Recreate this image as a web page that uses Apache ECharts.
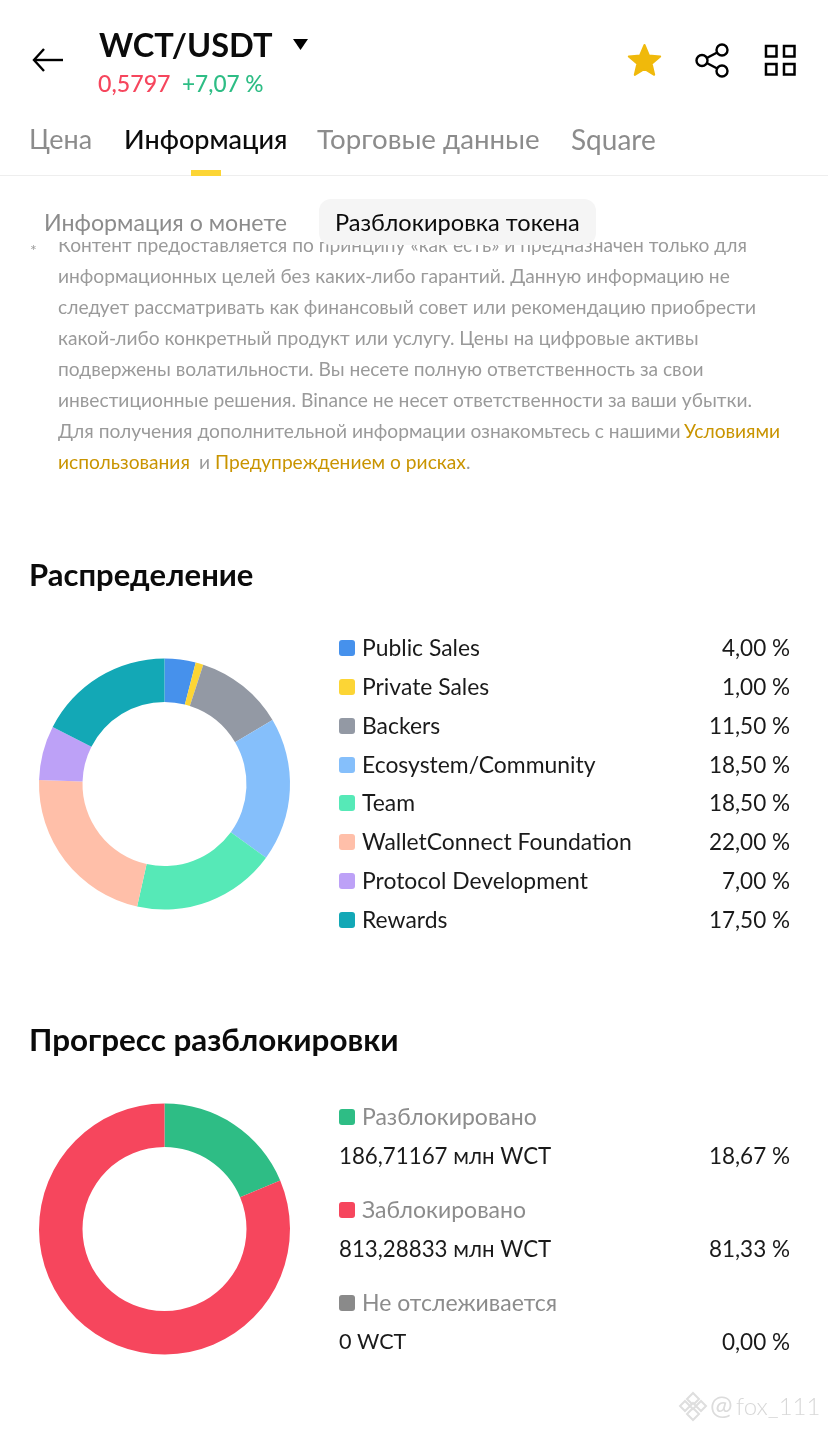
<!DOCTYPE html>
<html><head><meta charset="utf-8">
<style>html,body{margin:0;padding:0;background:#fff}#c{width:828px;height:1431px}</style>
<script src="https://cdn.jsdelivr.net/npm/echarts@6/dist/echarts.min.js"></script>
</head><body><div id="c"></div>
<script>
const allocNames=['Public Sales','Private Sales','Backers','Ecosystem/Community','Team','WalletConnect Foundation','Protocol Development','Rewards'];
const allocValues=[4,1,11.5,18.5,18.5,22,7,17.5];
const allocLabels=['4,00 %','1,00 %','11,50 %','18,50 %','18,50 %','22,00 %','7,00 %','17,50 %'];
const allocColors=['#4691EC','#FCD535','#9399A4','#85BFFB','#56E9B7','#FFBFA9','#BDA1F7','#13A8B6'];
const unlockNames=['Разблокировано','Заблокировано','Не отслеживается'];
const unlockValues=[18.67,81.33,0];
const unlockAmounts=['186,71167 млн WCT','813,28833 млн WCT','0 WCT'];
const unlockLabels=['18,67 %','81,33 %','0,00 %'];
const unlockColors=['#2EBD85','#F6465D','#8A8A8A'];
const paragraph=['Контент предоставляется по принципу «как есть» и предназначен только для','информационных целей без каких-либо гарантий. Данную информацию не','следует рассматривать как финансовый совет или рекомендацию приобрести','какой-либо конкретный продукт или услугу. Цены на цифровые активы','подвержены волатильности. Вы несете полную ответственность за свои','инвестиционные решения. Binance не несет ответственности за ваши убытки.','Для получения дополнительной информации ознакомьтесь с нашими '];
const F='Lato, "Open Sans", sans-serif';
const g=[];
function t(x,y,text,size,fill,opt){opt=opt||{};g.push({type:'text',z:opt.z||10,x:x,y:y,style:{text:text,fontFamily:F,fontSize:size,fontWeight:opt.w||400,fill:fill,align:opt.a||'left',verticalAlign:'middle'}});}
// paragraph (under the tab bar)
const py=[246,277,308,339,370,401,432];
const PS=19.2;
paragraph.forEach((s,i)=>t(58,py[i],s,PS,'#9a9a9a',{z:5}));
t(684,432,'Условиями',PS,'#C99400',{z:5});
t(58,463,'использования',PS,'#C99400',{z:5});
t(199,463,'и',PS,'#9a9a9a',{z:5});
t(215,463,'Предупреждением о рисках',PS,'#C99400',{z:5});
t(466,463,'.',PS,'#9a9a9a',{z:5});
t(30,251,'*',16,'#9a9a9a',{z:5});
g.push({type:'rect',z:6,shape:{x:0,y:0,width:828,height:242},style:{fill:'#fff'}});
// header
t(99,46,'WCT/USDT',32.6,'#0b0b0b',{w:700});
g.push({type:'polygon',z:10,shape:{points:[[293,39],[308,39],[300.5,50]]},style:{fill:'#000'}});
t(98,84.5,'0,5797',23.2,'#F6465D',{w:500});
t(182,84.5,'+7,07 %',22.6,'#2EBD85',{w:500});
g.push({type:'polyline',z:10,shape:{points:[[34,60],[63,60]]},style:{stroke:'#000',lineWidth:2.4,fill:null}});
g.push({type:'polyline',z:10,shape:{points:[[44,49],[34,60],[44,71]]},style:{stroke:'#000',lineWidth:2.4,fill:null}});
// star
(function(){const cx=644.5,cy=61.5,R=16.5,r=7.5;const pts=[];for(let i=0;i<10;i++){const a=-Math.PI/2+i*Math.PI/5,q=i%2?r:R;pts.push([cx+q*Math.cos(a),cy+q*Math.sin(a)]);}g.push({type:'polygon',z:10,shape:{points:pts},style:{fill:'#F0B90B',stroke:'#F0B90B',lineWidth:2,lineJoin:'round'}});})();
// share
[[722,50],[722,71],[702,60.5]].forEach(p=>g.push({type:'circle',z:11,shape:{cx:p[0],cy:p[1],r:5.5},style:{fill:'#fff',stroke:'#000',lineWidth:2.4}}));
g.push({type:'polyline',z:10,shape:{points:[[722,50],[702,60.5],[722,71]]},style:{stroke:'#000',lineWidth:2.4,fill:null}});
// grid
[[766,46],[784,46],[766,64],[784,64]].forEach(p=>g.push({type:'rect',z:10,shape:{x:p[0],y:p[1],width:10.5,height:10.5},style:{fill:'#fff',stroke:'#000',lineWidth:2.5}}));
// tabs
t(29,140.5,'Цена',27,'#8c8c8c');
t(124,140.5,'Информация',27,'#0b0b0b',{w:500});
t(317,140.5,'Торговые данные',27.7,'#8c8c8c');
t(571,140.5,'Square',28,'#8c8c8c');
g.push({type:'rect',z:10,shape:{x:191,y:170,width:30,height:6},style:{fill:'#FCD535'}});
g.push({type:'rect',z:9,shape:{x:0,y:175,width:828,height:1},style:{fill:'#eeeeee'}});
t(44,223.5,'Информация о монете',23.2,'#8c8c8c');
g.push({type:'rect',z:9,shape:{x:319,y:199,width:277,height:46,r:12},style:{fill:'#f5f5f5'}});
t(335,223.5,'Разблокировка токена',23.6,'#0b0b0b');
// titles
t(29,576,'Распределение',31,'#0b0b0b',{w:700});
t(29,1041,'Прогресс разблокировки',31.4,'#0b0b0b',{w:700});
// legend 1
const ly=[648,687,726,765,803,842,881,920];
allocNames.forEach((n,i)=>{
 g.push({type:'rect',z:10,shape:{x:339,y:ly[i]-8,width:16,height:16,r:3},style:{fill:allocColors[i]}});
 t(362,ly[i]+0.8,n,22.9,'#1a1a1a');
 t(790,ly[i]+0.8,allocLabels[i],22.5,'#1a1a1a',{a:'right'});
});
// legend 2
const ny=[1117,1210,1303],vy=[1156,1249,1342];
unlockNames.forEach((n,i)=>{
 g.push({type:'rect',z:10,shape:{x:339,y:ny[i]-8,width:16,height:16,r:3},style:{fill:unlockColors[i]}});
 t(362,ny[i]+1,n,23,'#8c8c8c');
 t(339,vy[i]+0.5,unlockAmounts[i],i===2?21.6:22.3,'#1a1a1a');
 t(790,vy[i]+0.5,unlockLabels[i],22.5,'#1a1a1a',{a:'right'});
});
// watermark
[[693,1399,6],[685,1406,5],[701,1406,5],[693,1414,6],[693,1406,3]].forEach(d=>g.push({type:'polygon',z:10,shape:{points:[[d[0],d[1]-d[2]],[d[0]+d[2],d[1]],[d[0],d[1]+d[2]],[d[0]-d[2],d[1]]]},style:{fill:'#fff',stroke:'#dedede',lineWidth:2}}));
t(710,1406,'@',27,'#dcdcdc',{w:400});
t(736,1407,'fox_111',24,'#d8d8d8',{w:300});

const chart=echarts.init(document.getElementById('c'),null,{renderer:'canvas'});
function pie(names,values,colors,cy){return {type:'pie',radius:[82,125.5],center:[164.5,cy],startAngle:90,clockwise:true,silent:true,animation:false,minAngle:0,stillShowZeroSum:false,
 label:{show:false},labelLine:{show:false},
 data:names.map((n,i)=>({name:n,value:values[i],itemStyle:{color:colors[i]}}))};}
chart.setOption({animation:false,backgroundColor:'#fff',graphic:{elements:g},
 series:[pie(allocNames,allocValues,allocColors,784),pie(unlockNames,unlockValues,unlockColors,1229)]});
</script></body></html>
